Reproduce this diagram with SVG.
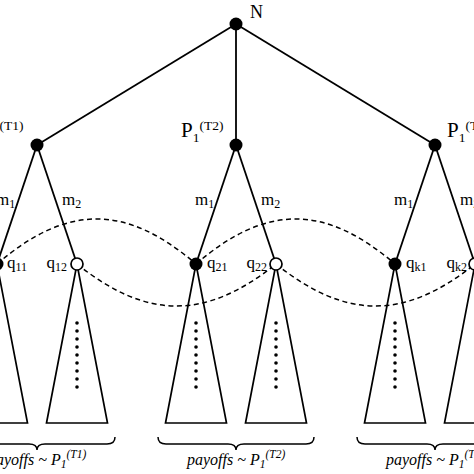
<svg xmlns="http://www.w3.org/2000/svg" width="474" height="474" viewBox="0 0 474 474">
<style>
  .edge{stroke:#000;stroke-width:1.8;fill:none}
  .tri{stroke:#000;stroke-width:1.7;fill:none;stroke-linejoin:miter}
  .info{stroke:#000;stroke-width:1.5;fill:none;stroke-dasharray:5 3.5}
  .brace{stroke:#000;stroke-width:1.5;fill:none}
  .full{fill:#000}
  .hollow{fill:#fff;stroke:#000;stroke-width:1.7}
  .dot{fill:#000}
  text{font-family:"Liberation Serif","Times New Roman",serif;fill:#000}
  .big{font-size:21px}
  .n{font-size:18px}
  .lab{font-size:17px}
  .s{font-size:13.5px}
  .ss{font-size:12px}
  .pay{font-size:16px;font-style:italic}
  .ps{font-size:11.5px}
</style>
<rect width="474" height="474" fill="#fff"/>
<g id="connectors">
  <line class="edge" x1="236" y1="24" x2="37" y2="145"/>
  <line class="edge" x1="236" y1="24" x2="236" y2="145"/>
  <line class="edge" x1="236" y1="24" x2="435" y2="145"/>
  <line class="edge" x1="37" y1="145" x2="-3" y2="264"/>
  <line class="edge" x1="37" y1="145" x2="77" y2="264"/>
  <line class="edge" x1="236" y1="145" x2="196" y2="264"/>
  <line class="edge" x1="236" y1="145" x2="276" y2="264"/>
  <line class="edge" x1="435" y1="145" x2="395" y2="264"/>
  <line class="edge" x1="435" y1="145" x2="475" y2="264"/>
  <path class="info" d="M -3,264 C 67,204 126,204 196,264"/>
  <path class="info" d="M 196,264 C 266,204 325,204 395,264"/>
  <path class="info" d="M 77,264 C 147,320 206,320 276,264"/>
  <path class="info" d="M 276,264 C 346,320 405,320 475,264"/>
</g>
<g id="subtrees">
  <polygon class="tri" points="-3,264 -33.5,423 27.5,423"/>
  <polygon class="tri" points="77,264 46.5,423 107.5,423"/>
  <polygon class="tri" points="196,264 165.5,423 226.5,423"/>
  <polygon class="tri" points="276,264 245.5,423 306.5,423"/>
  <polygon class="tri" points="395,264 364.5,423 425.5,423"/>
  <polygon class="tri" points="475,264 444.5,423 505.5,423"/>
  <g id="dots-q12">
    <circle class="dot" cx="77" cy="323" r="1.8"/><circle class="dot" cx="77" cy="331" r="1.8"/><circle class="dot" cx="77" cy="339" r="1.8"/><circle class="dot" cx="77" cy="347" r="1.8"/><circle class="dot" cx="77" cy="355" r="1.8"/><circle class="dot" cx="77" cy="363" r="1.8"/><circle class="dot" cx="77" cy="371" r="1.8"/><circle class="dot" cx="77" cy="379" r="1.8"/><circle class="dot" cx="77" cy="387" r="1.8"/>
  </g>
  <g id="dots-q21">
    <circle class="dot" cx="196" cy="323" r="1.8"/><circle class="dot" cx="196" cy="331" r="1.8"/><circle class="dot" cx="196" cy="339" r="1.8"/><circle class="dot" cx="196" cy="347" r="1.8"/><circle class="dot" cx="196" cy="355" r="1.8"/><circle class="dot" cx="196" cy="363" r="1.8"/><circle class="dot" cx="196" cy="371" r="1.8"/><circle class="dot" cx="196" cy="379" r="1.8"/><circle class="dot" cx="196" cy="387" r="1.8"/>
  </g>
  <g id="dots-q22">
    <circle class="dot" cx="276" cy="323" r="1.8"/><circle class="dot" cx="276" cy="331" r="1.8"/><circle class="dot" cx="276" cy="339" r="1.8"/><circle class="dot" cx="276" cy="347" r="1.8"/><circle class="dot" cx="276" cy="355" r="1.8"/><circle class="dot" cx="276" cy="363" r="1.8"/><circle class="dot" cx="276" cy="371" r="1.8"/><circle class="dot" cx="276" cy="379" r="1.8"/><circle class="dot" cx="276" cy="387" r="1.8"/>
  </g>
  <g id="dots-qk1">
    <circle class="dot" cx="395" cy="323" r="1.8"/><circle class="dot" cx="395" cy="331" r="1.8"/><circle class="dot" cx="395" cy="339" r="1.8"/><circle class="dot" cx="395" cy="347" r="1.8"/><circle class="dot" cx="395" cy="355" r="1.8"/><circle class="dot" cx="395" cy="363" r="1.8"/><circle class="dot" cx="395" cy="371" r="1.8"/><circle class="dot" cx="395" cy="379" r="1.8"/><circle class="dot" cx="395" cy="387" r="1.8"/>
  </g>
</g>
<g id="node-N">
  <circle class="full" cx="236" cy="24" r="6.5"/>
  <text class="n" x="250" y="18">N</text>
</g>
<g id="node-P1-T1">
  <circle class="full" cx="37" cy="145" r="6.5"/>
  <text class="big" x="-19" y="137">P<tspan class="s" dy="5">1</tspan><tspan class="s" dy="-12">(T1)</tspan></text>
</g>
<g id="node-P1-T2">
  <circle class="full" cx="236" cy="145" r="6.5"/>
  <text class="big" x="181" y="137">P<tspan class="s" dy="5">1</tspan><tspan class="s" dy="-12">(T2)</tspan></text>
</g>
<g id="node-P1-Tk">
  <circle class="full" cx="435" cy="145" r="6.5"/>
  <text class="big" x="447" y="137">P<tspan class="s" dy="5">1</tspan><tspan class="s" dy="-12">(Tk)</tspan></text>
</g>
<g id="move-labels">
  <text class="lab" x="-4" y="205">m<tspan class="ss" dy="3">1</tspan></text>
  <text class="lab" x="62" y="205">m<tspan class="ss" dy="3">2</tspan></text>
  <text class="lab" x="195" y="205">m<tspan class="ss" dy="3">1</tspan></text>
  <text class="lab" x="261" y="205">m<tspan class="ss" dy="3">2</tspan></text>
  <text class="lab" x="394" y="205">m<tspan class="ss" dy="3">1</tspan></text>
  <text class="lab" x="460" y="205">m<tspan class="ss" dy="3">2</tspan></text>
</g>
<g id="node-q11">
  <circle class="full" cx="-3" cy="264" r="6.5"/>
  <text class="lab" x="7" y="268">q<tspan class="ss" dy="3">11</tspan></text>
</g>
<g id="node-q12">
  <circle class="hollow" cx="77" cy="264" r="6"/>
  <text class="lab" x="67" y="268" text-anchor="end">q<tspan class="ss" dy="3">12</tspan></text>
</g>
<g id="node-q21">
  <circle class="full" cx="196" cy="264" r="6.5"/>
  <text class="lab" x="207" y="268">q<tspan class="ss" dy="3">21</tspan></text>
</g>
<g id="node-q22">
  <circle class="hollow" cx="276" cy="264" r="6"/>
  <text class="lab" x="267" y="268" text-anchor="end">q<tspan class="ss" dy="3">22</tspan></text>
</g>
<g id="node-qk1">
  <circle class="full" cx="395" cy="264" r="6.5"/>
  <text class="lab" x="406" y="268">q<tspan class="ss" dy="3">k1</tspan></text>
</g>
<g id="node-qk2">
  <circle class="hollow" cx="475" cy="264" r="6"/>
  <text class="lab" x="467" y="268" text-anchor="end">q<tspan class="ss" dy="3">k2</tspan></text>
</g>
<g id="payoffs">
  <path class="brace" d="M -41,437 Q -41,444 -33,444 L 29,444 Q 37,444 37,450 Q 37,444 45,444 L 107,444 Q 115,444 115,437"/>
  <path class="brace" d="M 158,437 Q 158,444 166,444 L 228,444 Q 236,444 236,450 Q 236,444 244,444 L 306,444 Q 314,444 314,437"/>
  <path class="brace" d="M 357,437 Q 357,444 365,444 L 427,444 Q 435,444 435,450 Q 435,444 443,444 L 505,444 Q 513,444 513,437"/>
  <text class="pay" x="-12" y="465">payoffs ~ P<tspan class="ps" dy="3">1</tspan><tspan class="ps" dy="-10">(T1)</tspan></text>
  <text class="pay" x="187" y="465">payoffs ~ P<tspan class="ps" dy="3">1</tspan><tspan class="ps" dy="-10">(T2)</tspan></text>
  <text class="pay" x="386" y="465">payoffs ~ P<tspan class="ps" dy="3">1</tspan><tspan class="ps" dy="-10">(Tk)</tspan></text>
</g>
</svg>
